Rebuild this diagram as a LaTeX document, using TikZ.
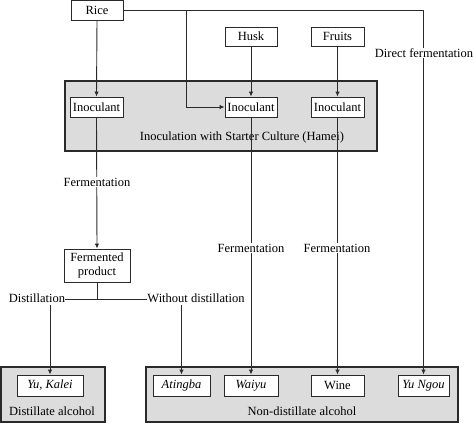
\documentclass[tikz,border=0pt]{standalone}
\usepackage{fontspec}
\setmainfont{Liberation Serif}
\usetikzlibrary{arrows.meta}
\definecolor{boxgray}{HTML}{DCDCDC}
\definecolor{linegray}{HTML}{2A2A2A}
\tikzset{
  group/.style={draw=linegray, line width=1.4pt, fill=boxgray, inner sep=0pt},
  item/.style={draw=linegray, line width=0.9pt, fill=white, inner sep=0pt, minimum height=20pt, font=\fontsize{12.5}{14}\selectfont},
  lbl/.style={fill=white, inner sep=1pt, font=\fontsize{12.5}{14}\selectfont},
  glbl/.style={inner sep=0pt, font=\fontsize{12.5}{14}\selectfont},
  conn/.style={draw=linegray, line width=0.9pt},
  arr/.style={conn, -{Latex[length=5pt,width=4.5pt]}}
}
\begin{document}
\begin{tikzpicture}[x=1pt,y=-1pt]
\useasboundingbox (0,0) rectangle (474,431);
% group boxes
\node[group, minimum width=312pt, minimum height=70pt] (hamei) at (221,116) {};
\node[group, minimum width=104pt, minimum height=55pt] (distbox) at (53,394.5) {};
\node[group, minimum width=312pt, minimum height=55pt] (nondist) at (302,394.5) {};
\node[glbl] (hameilbl) at (242,137) {Inoculation with Starter Culture (Hamei)};
\node[glbl] (distlbl) at (52,411) {Distillate alcohol};
\node[glbl] (nondistlbl) at (302,411) {Non-distillate alcohol};
% items
\node[item, minimum width=52pt] (rice) at (97,10) {Rice};
\node[item, minimum width=52pt, minimum height=19pt] (husk) at (251,36.5) {Husk};
\node[item, minimum width=53pt, minimum height=19pt] (fruits) at (337.5,36.5) {Fruits};
\node[item, minimum width=53pt] (inoc1) at (96.5,107) {Inoculant};
\node[item, minimum width=52pt] (inoc2) at (251,107) {Inoculant};
\node[item, minimum width=53pt] (inoc3) at (337.5,107) {Inoculant};
\node[item, minimum width=66pt, minimum height=33pt, align=center, font=\fontsize{12.5}{13.5}\selectfont] (ferm) at (97,265.5) {Fermented\\product};
\node[item, minimum width=66pt, minimum height=21pt, font=\itshape\fontsize{12.5}{14}\selectfont] (yukalei) at (50,385.5) {Yu, Kalei};
\node[item, minimum width=57pt, minimum height=21pt, font=\itshape\fontsize{12.5}{14}\selectfont] (atingba) at (181.5,385.5) {Atingba};
\node[item, minimum width=54pt, minimum height=21pt, font=\itshape\fontsize{12.5}{14}\selectfont] (waiyu) at (251,385.5) {Waiyu};
\node[item, minimum width=53pt, minimum height=21pt] (wine) at (337.5,385.5) {Wine};
\node[item, minimum width=51pt, minimum height=21pt, font=\itshape\fontsize{12.5}{14}\selectfont] (yungou) at (423.5,385.5) {Yu Ngou};
% connectors
\coordinate (br) at (186,10);
\draw[arr] (rice.south) -- (inoc1.north);
\draw[arr] (rice.east) -| (yungou.north);
\draw[arr] (br) |- (inoc2.west);
\draw[arr] (husk.south) -- (inoc2.north);
\draw[arr] (fruits.south) -- (inoc3.north);
\draw[arr] (inoc1.south) -- (ferm.north);
\draw[arr] (inoc2.south) -- (waiyu.north);
\draw[arr] (inoc3.south) -- (wine.north);
% distillation split
\node[lbl, inner sep=0pt] (dist) at (37,298) {Distillation};
\node[lbl, inner sep=0pt] (wodist) at (196,298) {Without distillation};
\coordinate (split) at (97,299);
\draw[conn] (ferm.south) -- (split);
\draw[conn] (dist.east |- split) -- (wodist.west |- split);
\draw[arr] (yukalei.north |- dist.south) ++(0,2) -- (yukalei.north);
\draw[arr] (atingba.north |- wodist.south) ++(0,2) -- (atingba.north);
% labels over lines
\node[lbl] (f1) at (97,182) {Fermentation};
\node[lbl] (f2) at (251,248) {Fermentation};
\node[lbl] (f3) at (337,248) {Fermentation};
\node[lbl] (direct) at (424,53) {Direct fermentation};
\end{tikzpicture}
\end{document}
